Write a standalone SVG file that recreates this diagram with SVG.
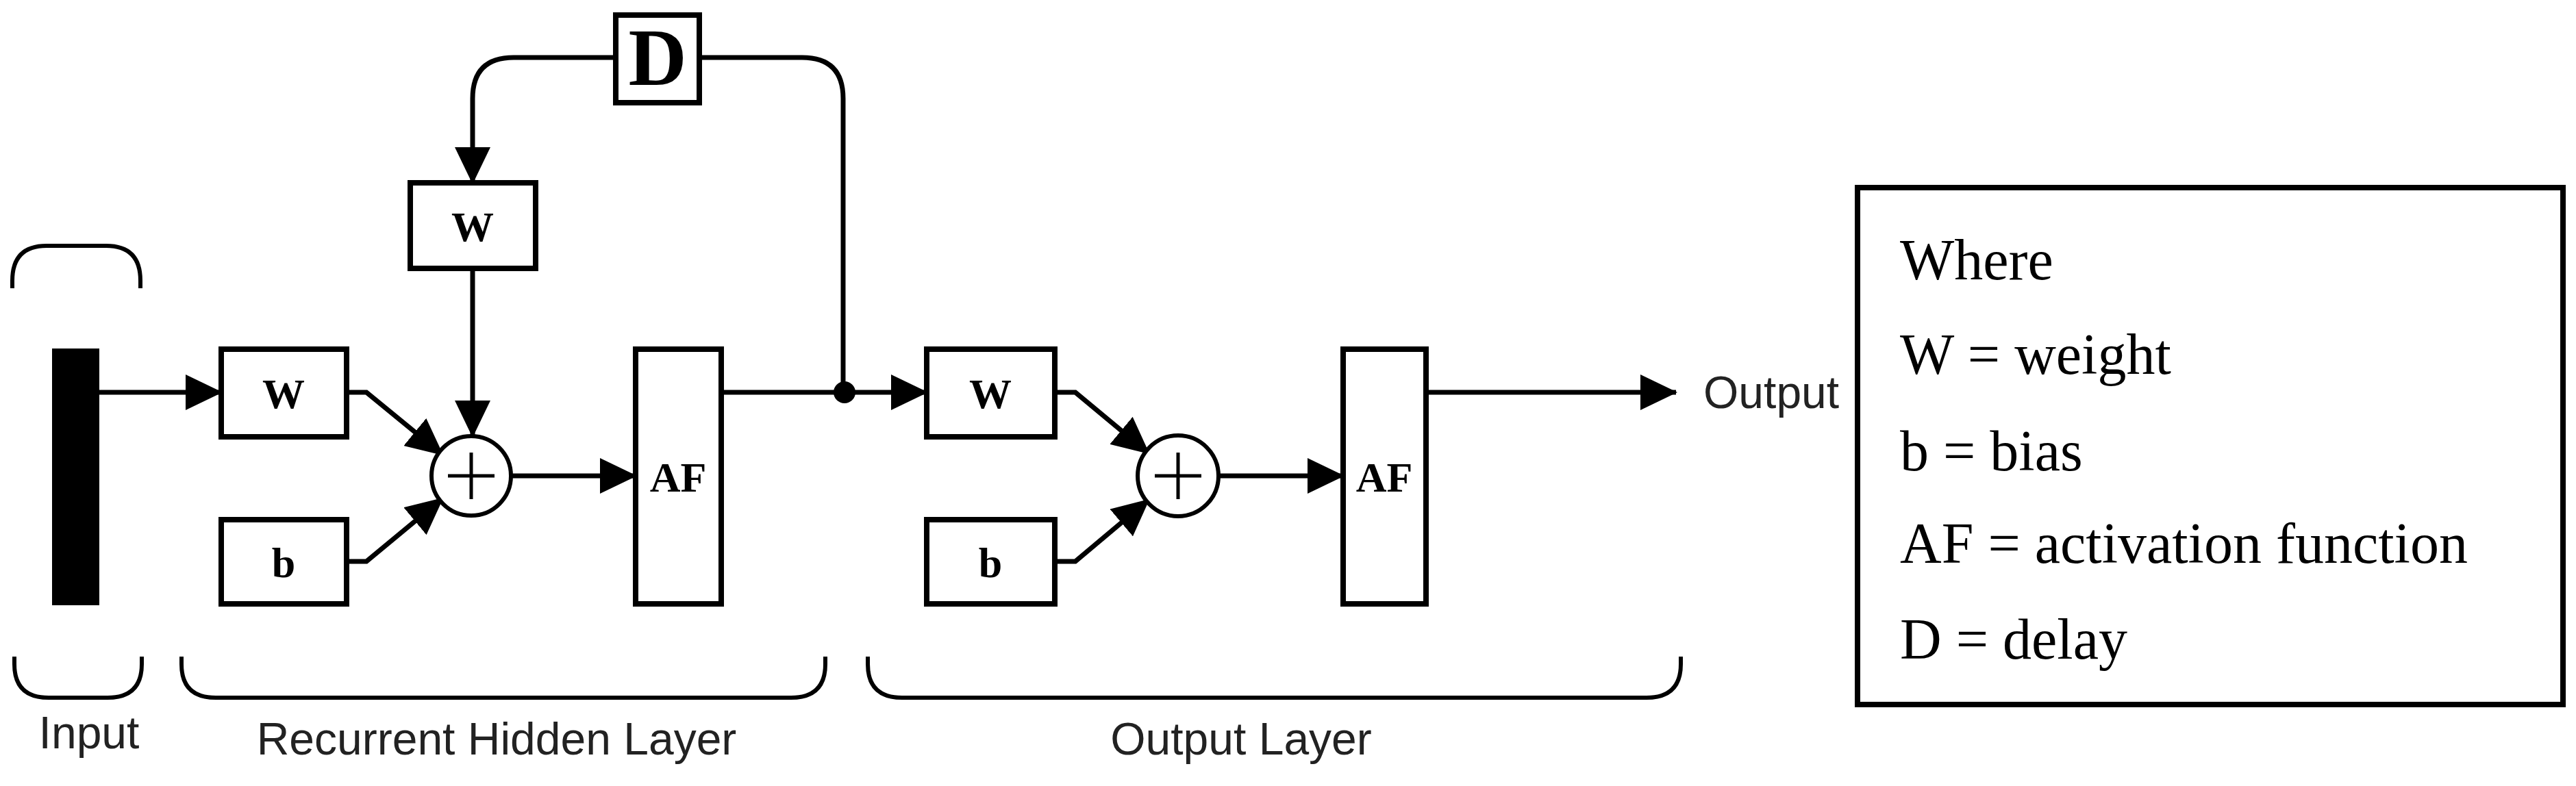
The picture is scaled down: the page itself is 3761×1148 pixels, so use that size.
<svg xmlns="http://www.w3.org/2000/svg" width="3761" height="1148" viewBox="0 0 3761 1148">
<style>
.box{fill:#fff;stroke:#000;stroke-width:8}
.ln{fill:none;stroke:#000;stroke-width:7}
.br{fill:none;stroke:#000;stroke-width:6}
.bl{font-family:"Liberation Serif",serif;font-weight:bold;font-size:62px;text-anchor:middle}
.sf{font-family:"Liberation Sans",Arial,sans-serif;font-size:66px;fill:#222}
.lg{font-family:"Liberation Serif",serif;font-size:84px}
</style>
<defs>
<marker id="ah" markerUnits="userSpaceOnUse" markerWidth="54" markerHeight="52" refX="52" refY="26" orient="auto"><path d="M0,0 L54,26 L0,52 Z" fill="#000"/></marker>
</defs>
<g id="connectors">
<path class="ln" d="M145,573 H323" marker-end="url(#ah)"/>
<path class="ln" d="M899,84 H750 Q690,84 690,144 V267" marker-end="url(#ah)"/>
<path class="ln" d="M1021,84 H1171 Q1231,84 1231,144 V573"/>
<path class="ln" d="M690,392 V637" marker-end="url(#ah)"/>
<path class="ln" d="M506,573 H535 L646,664" marker-end="url(#ah)"/>
<path class="ln" d="M506,820 H535 L646,728" marker-end="url(#ah)"/>
<path class="ln" d="M746,695 H928" marker-end="url(#ah)"/>
<path class="ln" d="M1053,573 H1353" marker-end="url(#ah)"/>
<circle cx="1233" cy="573" r="16" fill="#000"/>
<path class="ln" d="M1540,573 H1570 L1677,662" marker-end="url(#ah)"/>
<path class="ln" d="M1540,820 H1570 L1677,730" marker-end="url(#ah)"/>
<path class="ln" d="M1779,695 H1961" marker-end="url(#ah)"/>
<path class="ln" d="M2082,573 H2447" marker-end="url(#ah)"/>
</g>
<g id="input"><rect x="76" y="509" width="69" height="375" fill="#000"/></g>
<g id="delay"><rect class="box" x="899" y="22" width="122" height="128"/><text x="960" y="124" class="bl" style="font-size:118px">D</text></g>
<g id="w-rec"><rect class="box" x="599" y="267" width="183" height="125"/><text x="690" y="352" class="bl">W</text></g>
<g id="w1"><rect class="box" x="323" y="510" width="183" height="128"/><text x="414" y="596" class="bl">W</text></g>
<g id="b1"><rect class="box" x="323" y="759" width="183" height="123"/><text x="414" y="843" class="bl">b</text></g>
<g id="sum1"><circle cx="688" cy="695" r="58" fill="#fff" stroke="#000" stroke-width="6"/><path class="ln" d="M654,695 H722 M688,661 V729" style="stroke-width:5"/></g>
<g id="af1"><rect class="box" x="928" y="510" width="125" height="372"/><text x="990" y="718" class="bl">AF</text></g>
<g id="w2"><rect class="box" x="1353" y="510" width="187" height="128"/><text x="1446" y="596" class="bl">W</text></g>
<g id="b2"><rect class="box" x="1353" y="759" width="187" height="123"/><text x="1446" y="843" class="bl">b</text></g>
<g id="sum2"><circle cx="1720" cy="695" r="59" fill="#fff" stroke="#000" stroke-width="6"/><path class="ln" d="M1686,695 H1754 M1720,661 V729" style="stroke-width:5"/></g>
<g id="af2"><rect class="box" x="1961" y="510" width="121" height="372"/><text x="2021" y="718" class="bl">AF</text></g>
<g id="brackets">
<path class="br" d="M18,421 V410 Q18,359 68,359 H155 Q205,359 205,410 V421"/>
<path class="br" d="M21,959 V970 Q21,1019 71,1019 H157 Q207,1019 207,970 V959"/>
<path class="br" d="M265,959 V970 Q265,1019 315,1019 H1155 Q1205,1019 1205,970 V959"/>
<path class="br" d="M1267,959 V970 Q1267,1019 1317,1019 H2404 Q2454,1019 2454,970 V959"/>
</g>
<g id="labels">
<text x="130" y="1093" class="sf" text-anchor="middle">Input</text>
<text x="725" y="1102" class="sf" text-anchor="middle">Recurrent Hidden Layer</text>
<text x="1812" y="1102" class="sf" text-anchor="middle">Output Layer</text>
<text x="2487" y="596" class="sf">Output</text>
</g>
<g id="legend">
<rect x="2712" y="274" width="1030" height="755" fill="#fff" stroke="#000" stroke-width="8"/>
<text x="2774" y="408" class="lg">Where</text>
<text x="2774" y="546" class="lg">W = weight</text>
<text x="2774" y="687" class="lg">b = bias</text>
<text x="2774" y="822" class="lg">AF = activation function</text>
<text x="2774" y="962" class="lg">D = delay</text>
</g>
</svg>
